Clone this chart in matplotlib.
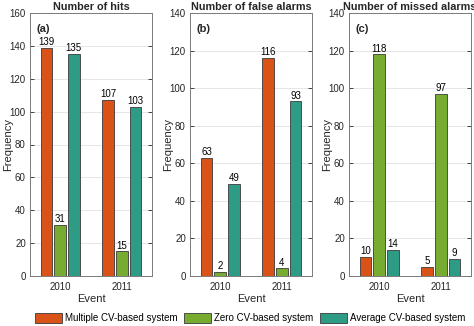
import matplotlib.pyplot as plt
import numpy as np

plt.rcParams['font.family'] = ['Liberation Sans', 'DejaVu Sans']

events = ['2010', '2011']
systems = ['Multiple CV-based system', 'Zero CV-based system', 'Average CV-based system']
colors = ['#D95319', '#77AC30', '#2E9C85']

hits = [[139, 107], [31, 15], [135, 103]]
false_alarms = [[63, 116], [2, 4], [49, 93]]
missed_alarms = [[10, 5], [118, 97], [14, 9]]

titles = ['Number of hits', 'Number of false alarms', 'Number of missed alarms']
letters = ['(a)', '(b)', '(c)']
ymax = [160, 140, 140]

W, H = 474, 326
fig = plt.figure(figsize=(W / 100, H / 100), dpi=100)

panels = [(30, hits), (190, false_alarms), (349, missed_alarms)]
x = np.arange(1, len(events) + 1)
offset = 0.222
width = 0.185
grey = '#262626'

bars = []
for i, (left, data) in enumerate(panels):
    ax = fig.add_axes([left / W, 1 - 276 / H, 122 / W, 263 / H])
    for k, vals in enumerate(data):
        b = ax.bar(x + (k - 1) * offset, vals, width, color=colors[k],
                   edgecolor='#3a3a3a', linewidth=0.6, zorder=3, label=systems[k])
        if i == 0:
            bars.append(b)
        for xi, v in zip(x + (k - 1) * offset, vals):
            ax.text(xi, v + 0.4, str(v), ha='center', va='bottom', fontsize=7,
                    color='black', zorder=4)
    ax.set_xlim(0.51, 2.49)
    ax.set_ylim(0, ymax[i])
    ax.set_yticks(np.arange(0, ymax[i] + 1, 20))
    ax.set_xticks(x)
    ax.set_xticklabels(events)
    ax.yaxis.grid(True, color='#e6e6e6', linewidth=0.7, zorder=0)
    ax.tick_params(direction='in', length=3, labelsize=7, colors=grey,
                   right=True, top=False, width=0.6)
    ax.tick_params(axis='y', pad=3)
    ax.tick_params(axis='x', pad=4)
    for s in ax.spines.values():
        s.set_color('#7a7a7a')
        s.set_linewidth(0.7)
    ax.set_xlabel('Event', fontsize=8, color=grey, labelpad=2)
    ylab = ax.set_ylabel('Frequency', fontsize=8, color=grey)
    ylab.set_va('center')
    ax.yaxis.set_label_coords(-22 / 122, 0.5)
    ax.set_title(titles[i], fontsize=7.8, fontweight='bold', color=grey, pad=2)
    ax.text(0.05, 0.96, letters[i], transform=ax.transAxes, fontsize=8,
            fontweight='bold', color=grey, va='top', ha='left')

fig.legend(handles=bars, labels=systems, loc='center', bbox_to_anchor=(250 / W, 1 - 318 / H),
           ncol=3, frameon=False, fontsize=7, handlelength=2.8, handleheight=1.35,
           columnspacing=0.7, handletextpad=0.25)

fig.savefig('out.png', dpi=100)
